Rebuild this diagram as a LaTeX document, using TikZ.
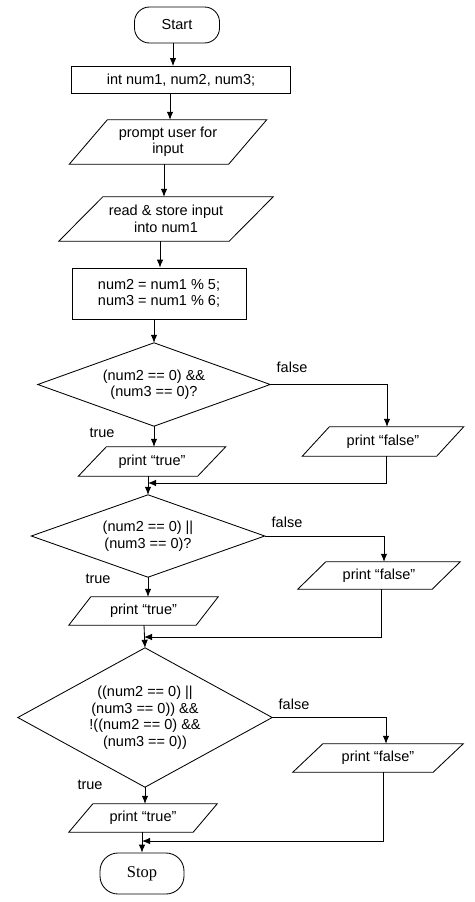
\documentclass[tikz,border=0pt]{standalone}
\usepackage{fontspec}
\setmainfont{Liberation Sans}
\newfontfamily\stopserif{Liberation Serif}
\usetikzlibrary{arrows.meta,calc}
\begin{document}
\begin{tikzpicture}[x=1pt,y=-1pt,
  every node/.style={inner sep=0pt, font=\fontsize{14.5}{16.5}\selectfont, align=center},
  ln/.style={line width=0.85pt},
  arr/.style={ln, -{Latex[length=8pt,width=6.5pt]}},
  term/.style={draw, ln, rounded corners=15pt},
  proc/.style={draw, ln},
  io/.style={},
  dec/.style={},
  lbl/.style={}]
\useasboundingbox (0,0) rectangle (474,902);
\fill[white] (0,0) rectangle (474,902);

% nodes
\node[term, minimum width=85pt, minimum height=36pt] (start) at (177,25) {Start};
\node[proc, minimum width=219pt, minimum height=27pt] (b1) at (181,80) {int num1, num2, num3;};
\node[io, minimum width=159pt, minimum height=44pt] (p1) at (168,142) {prompt user for\\input};
\node[io, minimum width=170pt, minimum height=44pt] (p2) at (166,219) {read \& store input\\into num1};
\node[proc, minimum width=174pt, minimum height=51pt] (b2) at (159,293.5) {num2 = num1 \% 5;\\num3 = num1 \% 6;};
\node[dec, minimum width=232pt, minimum height=83pt] (d1) at (154,384.5) {(num2 == 0) \&\&\\(num3 == 0)?};
\node[io, minimum width=119pt, minimum height=29pt] (t1) at (152,461.5) {print “true”};
\node[io, minimum width=134pt, minimum height=29pt] (f1) at (383,441.5) {print “false”};
\node[dec, minimum width=233pt, minimum height=82pt] (d2) at (148,536) {(num2 == 0) ||\\(num3 == 0)?};
\node[io, minimum width=127pt, minimum height=28pt] (t2) at (143.5,611) {print “true”};
\node[io, minimum width=134pt, minimum height=27pt] (f2) at (379,575.5) {print “false”};
\node[dec, minimum width=254pt, minimum height=139pt] (d3) at (145,717.5) {((num2 == 0) ||\\(num3 == 0)) \&\&\\!((num2 == 0) \&\&\\(num3 == 0))};
\node[io, minimum width=124pt, minimum height=28pt] (t3) at (143,818) {print “true”};
\node[io, minimum width=140pt, minimum height=28pt] (f3) at (378,758) {print “false”};
\node[term, rounded corners=18pt, minimum width=84pt, minimum height=41pt, font=\stopserif\fontsize{16.5}{18}\selectfont] (stop) at (142,873.5) {Stop};

% shapes
\foreach \n/\s in {p1/19, p2/22, t1/14, f1/13.5, t2/11, f2/14, t3/12, f3/15}
  \draw[ln] ($(\n.north west)+(\s,0)$) -- ($(\n.north east)+(\s,0)$) -- ($(\n.south east)-(\s,0)$) -- ($(\n.south west)-(\s,0)$) -- cycle;
\foreach \n in {d1,d2,d3}
  \draw[ln] (\n.north) -- (\n.east) -- (\n.south) -- (\n.west) -- cycle;

% labels
\node[lbl] (lf1) at (292,367) {false};
\node[lbl] (lt1) at (102,433) {true};
\node[lbl] (lf2) at (287,522) {false};
\node[lbl] (lt2) at (98,579) {true};
\node[lbl] (lf3) at (294,704) {false};
\node[lbl] (lt3) at (90,785) {true};

% merge points
\coordinate (m1) at (148,483);
\coordinate (m2) at (144,637);
\coordinate (m3) at (142,841);

% connectors
\draw[arr] ([xshift=-4pt]start.south) -- ([xshift=-4pt]start.south |- b1.north);
\draw[arr] ([xshift=-11pt]b1.south) -- ([xshift=-11pt]b1.south |- p1.north);
\draw[arr] ([xshift=-4pt]p1.south) -- ([xshift=-4pt]p1.south |- p2.north);
\draw[arr] ([xshift=-6pt]p2.south) -- ([xshift=-6pt]p2.south |- b2.north);
\draw[arr] (d1.north |- b2.south) -- (d1.north);

\draw[arr] (d1.south) -- (d1.south |- t1.north);
\draw[arr] (d1.east) -| ([xshift=4pt]f1.north);
\draw[arr] ([xshift=3pt]f1.south) |- (m1);
\draw[arr] (m1 |- t1.south) -- (d2.north);

\draw[arr] (d2.south) -- (d2.south |- t2.north);
\draw[arr] (d2.east) -| ([xshift=5pt]f2.north);
\draw[arr] ([xshift=2pt]f2.south) |- (m2);
\draw[arr] (m2 |- t2.south) -- (d3.north);

\draw[arr] (d3.south) -- (d3.south |- t3.north);
\draw[arr] (d3.east) -| ([xshift=8pt]f3.north);
\draw[arr] ([xshift=5pt]f3.south) |- (m3);
\draw[arr] (stop.north |- t3.south) -- (stop.north);
\end{tikzpicture}
\end{document}
